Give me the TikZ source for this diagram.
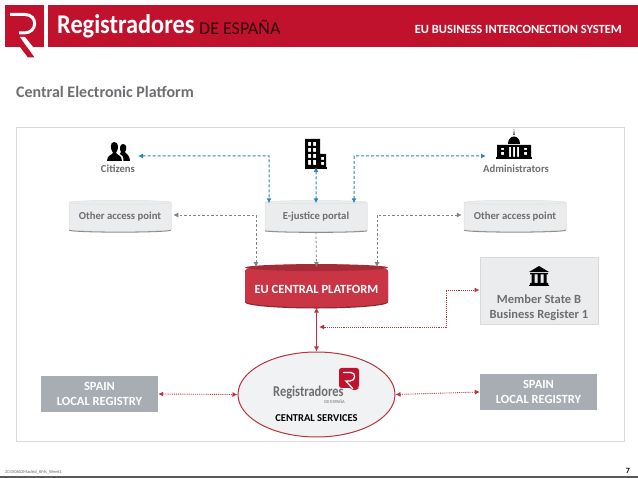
\documentclass[tikz,border=0pt]{standalone}
\usepackage{fontspec}
\setmainfont{Carlito}
\usetikzlibrary{shapes.geometric,arrows.meta,shadows}
\definecolor{regred}{HTML}{C0122D}
\definecolor{cylred}{HTML}{C93545}
\definecolor{linkred}{HTML}{B8323F}
\definecolor{linkblue}{HTML}{2A86B8}
\definecolor{linkgrey}{HTML}{808285}
\definecolor{txtgrey}{HTML}{6D6E71}
\definecolor{boxgrey}{HTML}{EAECEE}
\definecolor{localgrey}{HTML}{A7ADB3}

\begin{document}
\begin{tikzpicture}[x=1pt,y=-1pt]

  \tikzset{
    accesspoint/.style={cylinder,shape border rotate=90,aspect=0.05,minimum width=102pt,minimum height=31pt,inner sep=0pt,
      fill=boxgrey,draw=black!12,line width=0.5pt,
      drop shadow={shadow xshift=0pt,shadow yshift=-1.3pt,fill=black!45,opacity=1},
      text=txtgrey,font=\bfseries\fontsize{10.7}{12}\selectfont},
    platform/.style={cylinder,shape border rotate=90,aspect=0.1,minimum width=143pt,minimum height=43pt,inner sep=0pt,
      fill=cylred,
      drop shadow={shadow xshift=0pt,shadow yshift=-1.2pt,fill=cylred!70!black,opacity=1},
      text=white,font=\bfseries\fontsize{12.5}{14}\selectfont},
    localbox/.style={fill=localgrey,minimum width=117pt,minimum height=36pt,inner sep=0pt,align=center,
      text=white,font=\bfseries\fontsize{12.5}{14.5}\selectfont},
    iconbox/.style={inner sep=0pt,outer sep=0pt},
    caption/.style={inner sep=0pt,text=txtgrey,font=\bfseries\fontsize{10.7}{12}\selectfont},
    bluelink/.style={draw=linkblue,line width=1pt,dash pattern=on 3pt off 2pt,{Latex[length=5pt,width=5pt]}-{Latex[length=5pt,width=5pt]}},
    greylink/.style={draw=linkgrey,line width=0.8pt,dash pattern=on 2.5pt off 2pt,{Latex[length=5pt,width=5pt]}-{Latex[length=5pt,width=5pt]}},
    redlink/.style={draw=linkred,line width=0.9pt,densely dotted,{Latex[length=5pt,width=5pt]}-{Latex[length=5pt,width=5pt]}},
  }

  \useasboundingbox (0,0) rectangle (638,478);

  % header
  \fill[regred] (48,5) rectangle (638,47);
  \fill[regred] (5,5) rectangle (44,47);
  \fill[regred] (20,47) -- (28,57.5) -- (34.5,57.5) -- (27,47) -- cycle;
  \draw[white,line width=3pt] (10,14.5) -- (25,14.5) .. controls (38,14.5) and (38,33) .. (24,33) -- (19,33);
  \fill[white] (20,37) -- (25,37) -- (33,47) -- (27,47) -- cycle;
  \node (brand) [anchor=west,inner sep=0pt,text=white,font=\bfseries\fontsize{27}{30}\selectfont,xscale=0.9] at (57,26) {Registradores};
  \node (brandsub) [anchor=west,inner sep=0pt,text=black!75!regred,font=\fontsize{18}{20}\selectfont] at (199,27) {DE ESPAÑA};
  \node (system) [anchor=east,inner sep=0pt,text=white,font=\bfseries\fontsize{12.5}{14}\selectfont] at (622,29) {EU BUSINESS INTERCONECTION SYSTEM};
  \node (title) [anchor=west,inner sep=0pt,text=txtgrey,font=\bfseries\fontsize{16}{18}\selectfont] at (16,92) {Central Electronic Platform};

  % frame
  \draw[black!15,line width=0.8pt] (16,127) rectangle (624,441);

  % icons
  \node (citizens) [iconbox,minimum width=24pt,minimum height=21pt] at (118,151) {};
  \node (company) [iconbox,minimum width=22pt,minimum height=32pt] at (316,154) {};
  \node (admin) [iconbox,minimum width=36pt,minimum height=30pt] at (514,144) {};
  \fill (107,161) .. controls (107,155) and (112,155) .. (113,153) .. controls (110,149) and (110,142) .. (114,142)
    .. controls (119,142) and (119,149) .. (116,153) .. controls (117,155) and (122,155) .. (122,161) -- cycle;
  \fill (123.5,161) .. controls (123.5,156) and (122,155) .. (120,154) -- (121,152) .. controls (119,149) and (120,144) .. (123,144)
    .. controls (127,144) and (127,149) .. (125,152) .. controls (126,154) and (130,155) .. (130,161) -- cycle;
  \fill[even odd rule] (305,139) rectangle (320,168) (320,154) rectangle (326,168)
    (308,142) rectangle (311,146) (313,142) rectangle (316,146)
    (308,148) rectangle (311,152) (313,148) rectangle (316,152)
    (308,154) rectangle (311,158) (313,154) rectangle (316,158) (321,157) rectangle (324,160)
    (308,160) rectangle (311,165) (313,160) rectangle (316,165) (321,162) rectangle (324,165);
  \fill (305,167) rectangle (327,169);
  \fill (514,129) -- (514.6,135) -- (513.4,135) -- cycle;
  \fill (508,144) .. controls (508,134) and (520,134) .. (520,144) -- cycle;
  \fill[even odd rule] (497,145) rectangle (531,157) (501,148) rectangle (504,150) (501,152) rectangle (504,155)
    (524,148) rectangle (527,150) (524,152) rectangle (527,155)
    (509,147) rectangle (511,157) (513,147) rectangle (515,157) (517,147) rectangle (519,157);
  \fill (496,157) rectangle (532,159);
  \node (citizenslabel) [caption] at (118,169) {Citizens};
  \node (adminlabel) [caption] at (516,169) {Administrators};

  % access points and platform
  \node (leftaccess) [accesspoint] at (120,217) {Other access point};
  \node (portal) [accesspoint] at (316,217) {E-justice portal};
  \node (rightaccess) [accesspoint] at (515,217) {Other access point};
  \node (platform) [platform] at (316.5,289) {EU CENTRAL PLATFORM};
  \fill[cylred!82!black] ([yshift=-3.5pt]platform.north) ellipse (71.5 and 3.5);

  % member state
  \node (member) [fill=boxgrey,draw=black!15,line width=1pt,minimum width=118pt,minimum height=67pt] at (539,291.5) {};
  \node (memberlabel) [inner sep=0pt,align=center,text=txtgrey,font=\bfseries\fontsize{12.5}{15.5}\selectfont] at (539,307.5) {Member State B\\Business Register 1};
  \fill (539,266) -- (549,272) -- (529,272) -- cycle;
  \fill (530,273) rectangle (548,274.5) (530,283) rectangle (548,285) (529,285) rectangle (549,286);
  \fill (531.5,274) rectangle (534.5,283) (537.5,274) rectangle (540.5,283) (543.5,274) rectangle (546.5,283);

  % registries and central services
  \node (leftlocal) [localbox] at (99.5,394) {SPAIN\\LOCAL REGISTRY};
  \node (rightlocal) [localbox] at (538.5,392) {SPAIN\\LOCAL REGISTRY};
  \node (services) [ellipse,draw=linkred,line width=1pt,fill=boxgrey!70!white,minimum width=157pt,minimum height=85pt,inner sep=0pt] at (316.5,394.5) {};
  \fill[regred,rounded corners=2.5pt] (339,368) rectangle (359,388) -- (354,391) -- (350,388);
  \draw[white,line width=1.3pt] (343,372.5) -- (351,372.5) .. controls (356,372.5) and (356,381) .. (350,381) -- (346,381) -- (353,389);
  \node (servicesname) [anchor=west,inner sep=0pt,text=txtgrey,font=\bfseries\fontsize{15}{17}\selectfont,xscale=0.83] at (273,393) {Registradores};
  \node (servicessub) [anchor=east,inner sep=0pt,text=txtgrey,font=\fontsize{4.5}{5}\selectfont] at (345,402) {DE ESPAÑA};
  \node (serviceslabel) [inner sep=0pt,text=black,font=\bfseries\fontsize{10.5}{12}\selectfont] at (316.5,418) {CENTRAL SERVICES};

  % connectors
  \draw[bluelink] (citizens.east) ++(8,5) -- (269,156) -- ([xshift=-47pt,yshift=-3pt]portal.north);
  \draw[bluelink] ([yshift=3pt]company.south) -- ([yshift=-3pt]portal.north);
  \draw[bluelink] ([xshift=38pt,yshift=-3pt]portal.north) -- (354,156) -- (486,156);
  \draw[greylink] ([yshift=-3pt]platform.north -| 256,0) -- (256,215) -- ([xshift=2pt]leftaccess.east |- 0,215);
  \draw[greylink,-{Latex[length=5pt,width=5pt]}] (portal.south) -- ([yshift=-3pt]platform.north);
  \draw[greylink] ([yshift=-3pt]platform.north -| 377,0) -- (377,215) -- ([xshift=-2pt]rightaccess.west |- 0,215);
  \draw[redlink,solid] (platform.south) -- (services.north);
  \draw[redlink] (319,327) -- (446,327) -- (446,290) -- (member.west |- 0,290);
  \draw[redlink] (leftlocal.east) -- (services.west);
  \draw[redlink] (services.east) -- (rightlocal.west);

  % footer
  \fill[black!65] (0,476.5) rectangle (638,478);
  \node (footer) [anchor=west,inner sep=0pt,text=black!60,font=\fontsize{4.5}{5}\selectfont] at (5,472.5) {20150602Madrid\_KMs\_Week1};
  \node (pagenum) [inner sep=0pt,text=black,font=\bfseries\fontsize{8}{9}\selectfont] at (628,471) {7};

\end{tikzpicture}
\end{document}
